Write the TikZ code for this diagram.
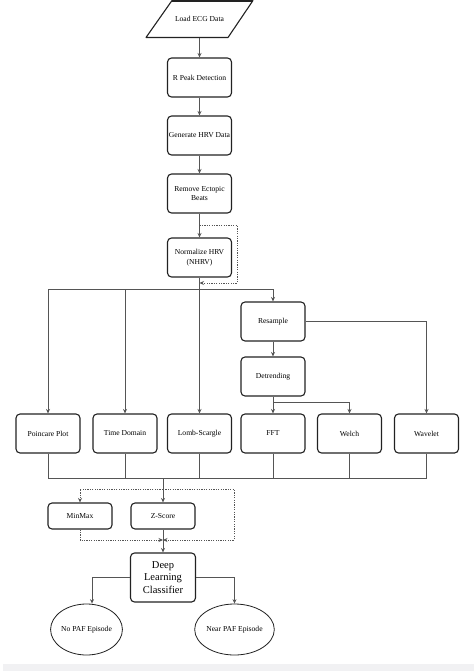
\documentclass[tikz,border=0pt]{standalone}
\usepackage{fontspec}
\setmainfont{Liberation Serif}
\usetikzlibrary{arrows.meta,shapes.geometric,calc}
\definecolor{band}{HTML}{F1F1F3}
\definecolor{edge}{HTML}{222222}
\definecolor{wire}{HTML}{555555}
\begin{document}
\begin{tikzpicture}[x=1pt,y=-1pt,
  lbl/.style={font=\fontsize{7.6}{9.5}\selectfont},
  box/.style={lbl, draw=edge, line width=1.1pt, rounded corners=4pt,
    minimum width=64pt, minimum height=39pt, inner sep=1pt, align=center},
  smallbox/.style={box, minimum height=26pt},
  oval/.style={lbl, ellipse, draw=edge, line width=0.8pt, minimum height=51pt, inner sep=0pt},
  conn/.style={draw=wire, line width=0.8pt},
  arr/.style={conn, -{Stealth[length=4.5pt,width=4pt]}},
  dotl/.style={conn, dash pattern=on 1.2pt off 1.2pt},
  darr/.style={dotl, -{Stealth[length=4.5pt,width=4pt]}}
]
\useasboundingbox (0,0) rectangle (474,671);
\fill[band] (3,664) rectangle (474,671);

% input parallelogram
\node[lbl, minimum height=37pt, minimum width=82pt, inner sep=0pt] (load) at (199.5,19) {Load ECG Data};
\draw[edge, line width=1.1pt, line join=round] (146,37.5) -- (172,0.5) -- (253,0.5) -- (228,37.5) -- cycle;
\draw[edge, line width=2.2pt] (172,0.8) -- (253,0.8);

\node[box] (rpeak) at (199.5,77.5) {R Peak Detection};
\node[box] (genhrv) at (199.5,135.5) {Generate HRV Data};
\node[box] (remove) at (199.5,193.5) {Remove Ectopic\\Beats};
\node[box] (norm) at (199.5,257.5) {Normalize HRV\\(NHRV)};

\node[box] (resample) at (273,321.5) {Resample};
\node[box] (detrend) at (273,376.5) {Detrending};

\node[box] (poincare) at (48,433.5) {Poincare Plot};
\node[box] (timed) at (125,433.5) {Time Domain};
\node[box] (lomb) at (199.5,433.5) {Lomb-Scargle};
\node[box] (fft) at (273,433.5) {FFT};
\node[box] (welch) at (349.5,433.5) {Welch};
\node[box] (wavelet) at (426.5,433.5) {Wavelet};

\node[smallbox] (minmax) at (80,516) {MinMax};
\node[smallbox] (zscore) at (163,516) {Z-Score};

\node[box, minimum height=49pt, minimum width=65pt, font=\fontsize{10.5}{12.5}\selectfont] (deep) at (163,577.5) {Deep\\Learning\\Classifier};

\node[oval, minimum width=65pt] (nopaf) at (86.5,629.5) {No PAF Episode};
\node[oval, minimum width=77pt] (nearpaf) at (234.5,629.5) {Near PAF Episode};

% main chain
\draw[arr] (load.south) -- (rpeak.north);
\draw[arr] (rpeak) -- (genhrv);
\draw[arr] (genhrv) -- (remove);
\draw[arr] (remove) -- (norm);

% dotted bypass around normalize
\coordinate (lt) at (199.5,225);
\coordinate (lb) at (199.5,283);
\draw[darr] (lt) -- ++(37.5,0) |- (lb);

% split
\coordinate (s1) at (199.5,289);
\draw[arr] (norm.south) -- (lomb.north);
\draw[arr] (s1) -| (poincare.north);
\draw[arr] (s1) -| (timed.north);
\draw[arr] (s1) -| (resample.north);

\draw[arr] (resample) -- (detrend);
\draw[arr] (resample.east) -| (wavelet.north);
\draw[arr] (detrend.south) -- (fft.north);
\coordinate (s2) at (273,402);
\draw[arr] (s2) -| (welch.north);

% merge
\coordinate (m) at (163,478);
\foreach \n in {poincare,timed,lomb,fft,welch,wavelet}
  \draw[conn] (\n.south) -- (\n.south |- m);
\draw[conn] (poincare.south |- m) -- (wavelet.south |- m);
\draw[arr] (m) -- (zscore.north);

% dotted normalisation choice
\coordinate (t) at (163,489);
\coordinate (bc) at (163,540);
\draw[darr] (t) -| (minmax.north);
\draw[darr] (minmax.south) |- (bc);
\draw[darr] (t) -- ++(71,0) |- (bc);

\draw[arr] (zscore.south) -- (deep.north);

\draw[arr] (deep.west) -| ($(nopaf.north)+(5.5,0)$);
\draw[arr] (deep.east) -| (nearpaf.north);
\end{tikzpicture}
\end{document}
